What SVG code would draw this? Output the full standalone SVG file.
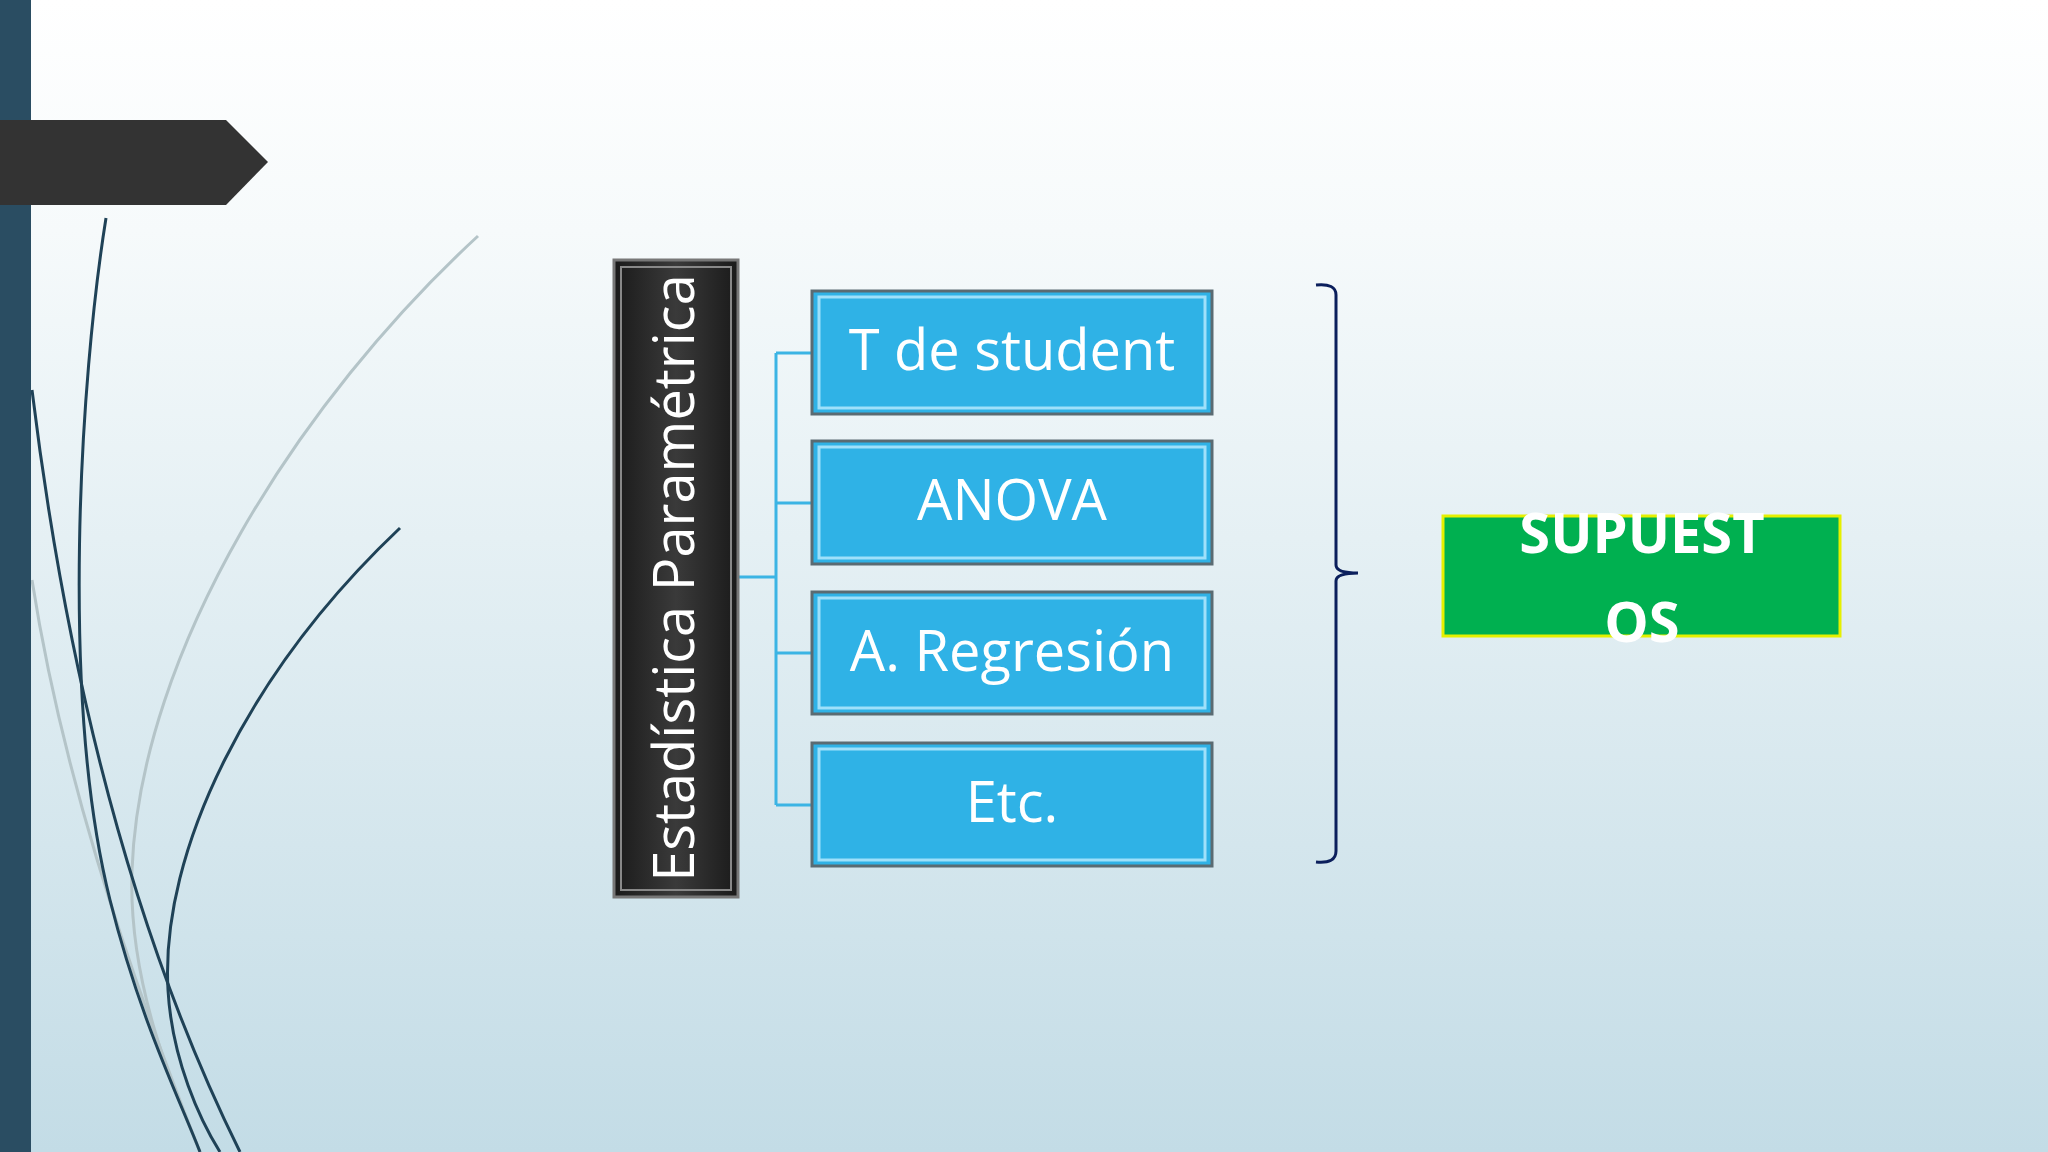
<svg xmlns="http://www.w3.org/2000/svg" width="2048" height="1152" viewBox="0 0 2048 1152">
<defs>
<linearGradient id="bg" x1="0" y1="0" x2="0" y2="1"><stop offset="0" stop-color="#ffffff"/><stop offset="0.2" stop-color="#f6fafb"/><stop offset="1" stop-color="#c3dce6"/></linearGradient>
<linearGradient id="dk" x1="0" y1="0" x2="1" y2="0"><stop offset="0" stop-color="#1a1a1a"/><stop offset="0.5" stop-color="#3a3a3a"/><stop offset="1" stop-color="#1a1a1a"/></linearGradient>
<style>
.bx{fill:#2fb2e6;stroke:#5a6b72;stroke-width:3}
.in{fill:none;stroke:#9fe0fa;stroke-width:3}
.t{font-family:"Open Sans","Liberation Sans",sans-serif;fill:#fff;font-size:56px;text-anchor:middle}
.c{fill:none;stroke:#3bb4e4;stroke-width:3}
.cv{fill:none;stroke:#1f4257;stroke-width:3}
.cl{fill:none;stroke:#b4c4c8;stroke-width:3}
</style>
</defs>
<rect width="2048" height="1152" fill="url(#bg)"/>
<path class="cl" d="M478 236 C300 400 140 650 132 870 C128 980 170 1080 200 1152"/>
<path class="cl" d="M32 580 C60 760 120 950 200 1152"/>
<path class="cv" d="M400 528 C250 670 160 850 168 990 C172 1060 200 1120 220 1152"/>
<path class="cv" d="M106 218 C80 380 60 700 110 900 C140 1020 180 1100 200 1152"/>
<path class="cv" d="M32 390 C70 700 140 950 240 1152"/>
<rect x="0" y="0" width="31" height="1152" fill="#2a4d62"/>
<path d="M0 120 H226 L268 162 L226 205 H0 Z" fill="#333"/>
<g id="connectors">
<path class="c" d="M738 577 H776 M776 353 V805 M776 353 H812 M776 503 H812 M776 653 H812 M776 805 H812"/>
<path d="M1316 285 Q1336 283 1336 295 V565 Q1336 573 1358 573 Q1336 573 1336 581 V851 Q1336 864 1316 862" fill="none" stroke="#0b1f5c" stroke-width="3"/>
</g>
<g id="n0"><rect x="614" y="260" width="124" height="637" fill="url(#dk)" stroke="#777" stroke-width="3"/><rect x="621" y="267" width="110" height="623" fill="none" stroke="#888" stroke-width="2"/>
<text class="t" transform="translate(694 578) rotate(-90)" font-size="52">Estadística Paramétrica</text></g>
<g id="n1"><rect class="bx" x="812" y="291" width="400" height="123"/><rect class="in" x="819" y="297" width="386" height="111"/><text class="t" x="1012" y="370">T de student</text></g>
<g id="n2"><rect class="bx" x="812" y="441" width="400" height="123"/><rect class="in" x="819" y="447" width="386" height="111"/><text class="t" x="1012" y="520">ANOVA</text></g>
<g id="n3"><rect class="bx" x="812" y="592" width="400" height="122"/><rect class="in" x="819" y="598" width="386" height="110"/><text class="t" x="1012" y="671">A. Regresión</text></g>
<g id="n4"><rect class="bx" x="812" y="743" width="400" height="123"/><rect class="in" x="819" y="749" width="386" height="111"/><text class="t" x="1012" y="822">Etc.</text></g>
<g id="n5"><rect x="1443" y="516" width="397" height="120" fill="#00b050" stroke="#e5f000" stroke-width="3"/>
<text class="t" x="1642" y="553" font-size="62" font-weight="bold">SUPUEST</text><text class="t" x="1642" y="642" font-size="62" font-weight="bold">OS</text></g>
</svg>
